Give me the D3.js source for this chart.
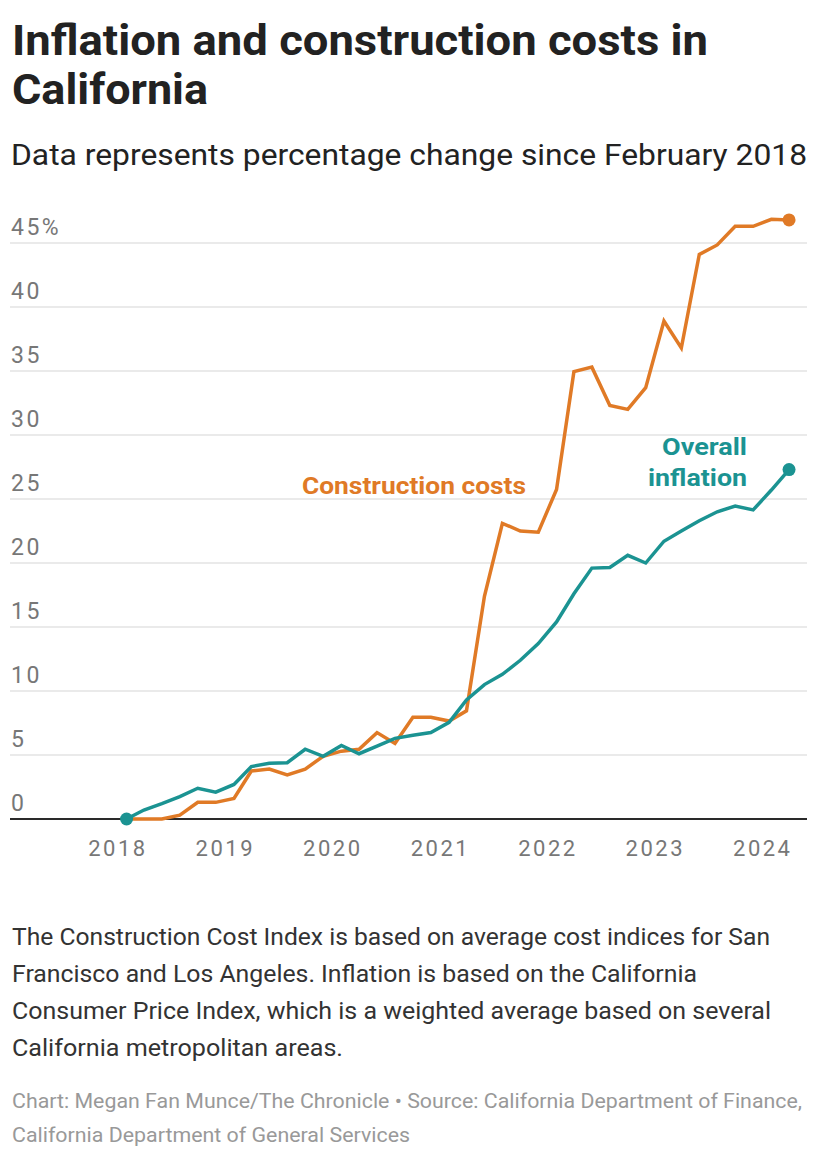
<!DOCTYPE html>
<html>
<head>
<meta charset="utf-8">
<script src="https://cdn.jsdelivr.net/npm/d3@7"></script>
<style>
  body { margin: 0; background: #fff; }
  svg { display: block; font-family: Roboto, "Noto Sans", sans-serif; }
</style>
</head>
<body>
<svg class="chart" width="820" height="1162"></svg>
<script>
// bimonthly observations, February 2018 to April 2024
var dates = [
  "2018-02", "2018-04", "2018-06", "2018-08", "2018-10", "2018-12",
  "2019-02", "2019-04", "2019-06", "2019-08", "2019-10", "2019-12",
  "2020-02", "2020-04", "2020-06", "2020-08", "2020-10", "2020-12",
  "2021-02", "2021-04", "2021-06", "2021-08", "2021-10", "2021-12",
  "2022-02", "2022-04", "2022-06", "2022-08", "2022-10", "2022-12",
  "2023-02", "2023-04", "2023-06", "2023-08", "2023-10", "2023-12",
  "2024-02", "2024-04"
];

var construction = [
  0, 0, 0, 0.3, 1.3, 1.3,
  1.6, 3.75, 3.9, 3.45, 3.9, 4.9,
  5.3, 5.45, 6.75, 5.9, 7.95, 7.95,
  7.65, 8.45, 17.4, 23.1, 22.5, 22.4,
  25.75, 34.95, 35.3, 32.3, 32.0, 33.7,
  38.9, 36.8, 44.1, 44.85, 46.3, 46.3,
  46.85, 46.8
];

var inflation = [
  0, 0.7, 1.2, 1.75, 2.4, 2.1,
  2.7, 4.1, 4.35, 4.4, 5.45, 4.9,
  5.75, 5.1, 5.7, 6.3, 6.55, 6.75,
  7.55, 9.3, 10.5, 11.3, 12.4, 13.7,
  15.4, 17.6, 19.6, 19.65, 20.6, 20.0,
  21.7, 22.5, 23.3, 24.0, 24.45, 24.15,
  25.7, 27.3
];

var yTicks = [0, 5, 10, 15, 20, 25, 30, 35, 40, 45];
var xTicks = ["2018", "2019", "2020", "2021", "2022", "2023", "2024"];

var titleLines = ["Inflation and construction costs in", "California"];
var subtitle = "Data represents percentage change since February 2018";
var noteLines = [
  "The Construction Cost Index is based on average cost indices for San",
  "Francisco and Los Angeles. Inflation is based on the California",
  "Consumer Price Index, which is a weighted average based on several",
  "California metropolitan areas."
];
var sourceLines = [
  "Chart: Megan Fan Munce/The Chronicle \u2022 Source: California Department of Finance,",
  "California Department of General Services"
];

(function () {
  var orange = "#e07a26";
  var teal = "#1b9392";
  var parse = d3.timeParse("%Y-%m");

  var svg = d3.select(".chart");

  // header
  var titleWidths = [696, 196];
  svg.selectAll("text.title")
    .data(titleLines)
    .enter().append("text")
      .attr("class", "title")
      .attr("x", 12)
      .attr("y", function(d, i) { return 55 + i * 49; })
      .attr("textLength", function(d, i) { return titleWidths[i]; })
      .attr("lengthAdjust", "spacingAndGlyphs")
      .style("font-size", "43px")
      .style("font-weight", 700)
      .style("fill", "#222")
      .text(function(d) { return d; });

  svg.append("text")
    .attr("x", 11)
    .attr("y", 165)
    .attr("textLength", 796)
    .attr("lengthAdjust", "spacingAndGlyphs")
    .style("font-size", "29px")
    .style("fill", "#222")
    .text(subtitle);

  // plot
  var left = 10, right = 807;
  var x = d3.scaleTime()
    .domain([new Date(2017, 0, 1), new Date(2024, 5, 1)])
    .range([left, right]);
  var y = d3.scaleLinear()
    .domain([0, 45])
    .range([819, 243]);

  var grid = svg.append("g").attr("class", "grid");
  grid.selectAll("line")
    .data(yTicks.filter(function(d) { return d > 0; }))
    .enter().append("line")
      .attr("x1", left)
      .attr("x2", right)
      .attr("y1", function(d) { return y(d); })
      .attr("y2", function(d) { return y(d); })
      .style("stroke", "#e3e3e3")
      .style("stroke-width", 1.5);

  grid.selectAll("text")
    .data(yTicks)
    .enter().append("text")
      .attr("x", 11)
      .attr("y", function(d) { return y(d) - 8; })
      .style("font-size", "23px")
      .style("letter-spacing", "2.5px")
      .style("fill", "#777")
      .text(function(d, i) { return i === yTicks.length - 1 ? d + "%" : d; });

  var xaxis = d3.axisBottom(x)
    .tickValues(xTicks.map(function(d) { return new Date(+d, 0, 1); }))
    .tickFormat(d3.timeFormat("%Y"))
    .tickSize(0)
    .tickPadding(21);
  var gx = svg.append("g")
    .attr("transform", "translate(0," + y(0) + ")")
    .call(xaxis);
  gx.select(".domain").remove();
  gx.selectAll("text")
    .style("font-family", "Roboto, sans-serif")
    .style("font-size", "22px")
    .style("letter-spacing", "2.5px")
    .style("fill", "#777");

  svg.append("line")
    .attr("x1", left)
    .attr("x2", right)
    .attr("y1", y(0))
    .attr("y2", y(0))
    .style("stroke", "#2a2a2a")
    .style("stroke-width", 2);

  var line = d3.line()
    .x(function(d) { return x(d.date); })
    .y(function(d) { return y(d.value); });

  function series(values) {
    return dates.map(function(d, i) { return {date: parse(d), value: values[i]}; });
  }

  var cons = series(construction);
  var infl = series(inflation);

  [[cons, orange], [infl, teal]].forEach(function(s) {
    svg.append("path")
      .datum(s[0])
      .attr("d", line)
      .style("fill", "none")
      .style("stroke", s[1])
      .style("stroke-width", 3.5)
      .style("stroke-linejoin", "miter");
  });

  var dots = [
    [cons[cons.length - 1], orange],
    [infl[0], teal],
    [infl[infl.length - 1], teal]
  ];
  svg.selectAll("circle")
    .data(dots)
    .enter().append("circle")
      .attr("cx", function(d) { return x(d[0].date); })
      .attr("cy", function(d) { return y(d[0].value); })
      .attr("r", 6.5)
      .style("fill", function(d) { return d[1]; });

  // series labels
  svg.append("text")
    .attr("x", 302)
    .attr("y", 494)
    .attr("textLength", 224)
    .attr("lengthAdjust", "spacingAndGlyphs")
    .style("font-size", "23px")
    .style("font-weight", 700)
    .style("fill", orange)
    .text("Construction costs");

  var inflWidths = [85, 99];
  svg.selectAll("text.infl")
    .data(["Overall", "inflation"])
    .enter().append("text")
      .attr("class", "infl")
      .attr("x", function(d, i) { return 747 - inflWidths[i]; })
      .attr("y", function(d, i) { return 455 + i * 31; })
      .attr("textLength", function(d, i) { return inflWidths[i]; })
      .attr("lengthAdjust", "spacingAndGlyphs")
      .style("font-size", "24px")
      .style("font-weight", 700)
      .style("fill", teal)
      .text(function(d) { return d; });

  // notes
  var noteWidths = [758, 685, 759, 331];
  svg.selectAll("text.note")
    .data(noteLines)
    .enter().append("text")
      .attr("class", "note")
      .attr("x", 12)
      .attr("y", function(d, i) { return 945 + i * 37; })
      .attr("textLength", function(d, i) { return noteWidths[i]; })
      .attr("lengthAdjust", "spacingAndGlyphs")
      .style("font-size", "24px")
      .style("fill", "#333")
      .text(function(d) { return d; });

  var sourceWidths = [790, 398];
  svg.selectAll("text.source")
    .data(sourceLines)
    .enter().append("text")
      .attr("class", "source")
      .attr("x", 12)
      .attr("y", function(d, i) { return 1108 + i * 34; })
      .attr("textLength", function(d, i) { return sourceWidths[i]; })
      .attr("lengthAdjust", "spacingAndGlyphs")
      .style("font-size", "20px")
      .style("fill", "#999")
      .text(function(d) { return d; });
})();
</script>
</body>
</html>
